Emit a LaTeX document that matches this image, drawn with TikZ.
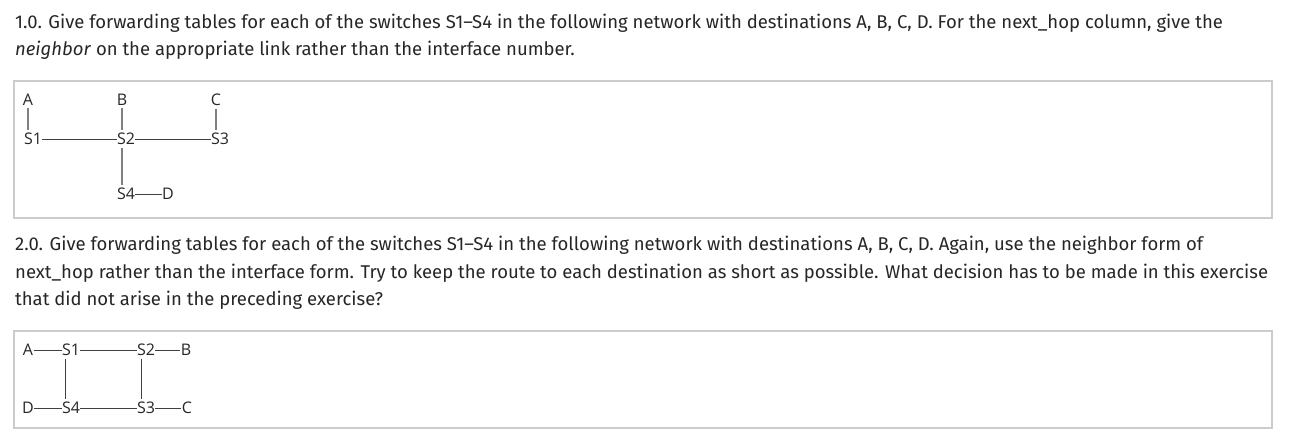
\documentclass[tikz,border=0pt]{standalone}
\usepackage{fontspec}
\setmainfont{Fira Sans}
\newfontfamily\netfont{Open Sans}
\usetikzlibrary{positioning}

\begin{document}
\begin{tikzpicture}[x=1pt, y=-1pt,
    para/.style={anchor=base west, inner sep=0pt, font=\fontsize{18.5}{22}\selectfont, text=black!85},
    sw/.style={inner xsep=0.3pt, inner ysep=0.5pt, font=\netfont\fontsize{16}{18}\selectfont, text=black!85},
    link/.style={draw=black!75, line width=0.9pt},
    drop/.style={draw=black!50, line width=1.8pt},
    frame/.style={draw=black!20, line width=1.2pt}]
    \useasboundingbox (0,0) rectangle (1296,436);

    % Exercise 1.0
    \node [para] (q1a) at (15,29) {1.0. Give forwarding tables for each of the switches S1--S4 in the following network with destinations A, B, C, D. For the next\_hop column, give the};
    \node [para] (q1b) at (15,56) {\textit{neighbor} on the appropriate link rather than the interface number.};
    \draw [frame] (14,81) rectangle (1272,218);

    \node [sw] (a1) at (28,100) {A};
    \node [sw] (b1) at (122,100) {B};
    \node [sw] (c1) at (216,100) {C};
    \node [sw] (s11) at (33,139) {S1};
    \node [sw] (s21) at (126,139) {S2};
    \node [sw] (s31) at (220,139) {S3};
    \node [sw] (s41) at (126,194) {S4};
    \node [sw] (d1) at (168,194) {D};
    \draw [drop, shorten <=2pt, shorten >=2pt] (a1) -- (a1 |- s11.north);
    \draw [drop, shorten <=2pt, shorten >=2pt] (b1) -- (b1 |- s21.north);
    \draw [drop, shorten <=2pt, shorten >=2pt] (c1) -- (c1 |- s31.north);
    \draw [link] (s11) -- (s21);
    \draw [link] (s21) -- (s31);
    \draw [drop, shorten <=2pt, shorten >=2pt] (b1 |- s21.south) -- (b1 |- s41.north);
    \draw [link] (s41) -- (d1);

    % Exercise 2.0
    \node [para] (q2a) at (15,250) {2.0. Give forwarding tables for each of the switches S1--S4 in the following network with destinations A, B, C, D. Again, use the neighbor form of};
    \node [para] (q2b) at (15,278) {next\_hop rather than the interface form. Try to keep the route to each destination as short as possible. What decision has to be made in this exercise};
    \node [para] (q2c) at (15,305) {that did not arise in the preceding exercise?};
    \draw [frame] (14,331) rectangle (1272,428);

    \node [sw] (a2) at (28,350) {A};
    \node [sw] (s12) at (71,350) {S1};
    \node [sw] (s22) at (146,350) {S2};
    \node [sw] (b2) at (186,350) {B};
    \node [sw] (d2) at (28,408) {D};
    \node [sw] (s42) at (71,408) {S4};
    \node [sw] (s32) at (146,408) {S3};
    \node [sw] (c2) at (187,408) {C};
    \draw [link] (a2) -- (s12);
    \draw [link] (s12) -- (s22);
    \draw [link] (s22) -- (b2);
    \draw [link] (d2) -- (s42);
    \draw [link] (s42) -- (s32);
    \draw [link] (s32) -- (c2);
    \draw [link, shorten <=2pt, shorten >=2pt] ([xshift=-6pt]s12.south) -- ([xshift=-6pt]s42.north);
    \draw [link, shorten <=2pt, shorten >=2pt] ([xshift=-5pt]s22.south) -- ([xshift=-5pt]s32.north);
\end{tikzpicture}
\end{document}
